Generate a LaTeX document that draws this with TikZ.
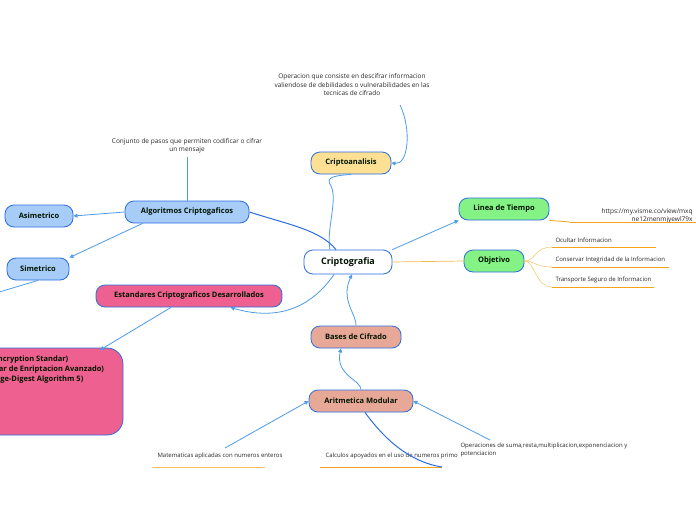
\documentclass[tikz,border=0pt]{standalone}
\usepackage{fontspec}
\setmainfont{Open Sans}
\usetikzlibrary{arrows.meta,calc}
\definecolor{bdr}{HTML}{2A6DE0}
\definecolor{lb}{HTML}{4D9BEA}
\definecolor{org}{HTML}{F7A21B}
\begin{document}
\begin{tikzpicture}[x=1pt,y=-1pt,
 box/.style={draw=bdr,line width=0.8pt,rounded corners=9pt,minimum height=22pt,font=\bfseries\fontsize{7.5}{9}\selectfont,text=black!80!green!40!black,inner sep=2pt},
 lbl/.style={font=\fontsize{6.5}{8.5}\selectfont,align=center,text=black!85},
 sm/.style={font=\fontsize{6}{7.5}\selectfont,text=black!85,align=left},
 ar/.style={lb,line width=0.8pt,-{Triangle[length=4pt,width=4pt]}},
 ln/.style={lb,line width=0.8pt},
 dk/.style={bdr,line width=1pt},
 ol/.style={org,line width=0.8pt}]
\useasboundingbox (0,0) rectangle (696,520);
\clip (0,0) rectangle (696,520);
\node[box,fill=white,minimum width=88pt,minimum height=24pt,font=\bfseries\fontsize{9}{10}\selectfont] (cg) at (348,262) {Criptografia};
\node[box,fill=yellow!45!orange!40,minimum width=80pt] (ca) at (351,163) {Criptoanalisis};
\node[box,fill=green!45!white!95!black,minimum width=90pt] (lt) at (504,209) {Linea de Tiempo};
\node[box,fill=green!45!white!95!black,minimum width=60pt] (ob) at (494,261) {Objetivo};
\node[box,fill={rgb,255:red,232;green,168;blue,152},minimum width=90pt] (bc) at (356,337) {Bases de Cifrado};
\node[box,fill={rgb,255:red,232;green,168;blue,152},minimum width=104pt] (am) at (361,401) {Aritmetica Modular};
\node[box,fill={rgb,255:red,238;green,96;blue,144},minimum width=186pt] (es) at (189,296) {Estandares Criptograficos Desarrollados};
\node[box,fill={rgb,255:red,168;green,204;blue,248},minimum width=124pt] (al) at (187,212) {Algoritmos Criptogaficos};
\node[box,fill={rgb,255:red,168;green,204;blue,248},minimum width=68pt] (as) at (39,216) {Asimetrico};
\node[box,fill={rgb,255:red,168;green,204;blue,248},minimum width=62pt] (si) at (38,269) {Simetrico};
\node[box,fill={rgb,255:red,238;green,96;blue,144},rounded corners=16pt,minimum width=150pt,minimum height=87pt] (bb) at (48,391.5) {};
\node[font=\bfseries\fontsize{7.5}{10}\selectfont,align=left,anchor=north west,text=black!80!green!40!black] (bt) at (-48,352) {DES (Data Encryption Standar)\\AES (Estandar de Enriptacion Avanzado)\\MD5 (Message-Digest Algorithm 5)};
\node[lbl] (op) at (352,85) {Operacion que consiste en descifrar informacion\\valiendose de debilidades o vulnerabilidades en las\\tecnicas de cifrado};
\node[lbl] (cj) at (187,146) {Conjunto de pasos que permiten codificar o cifrar\\un mensaje};
\node[lbl,anchor=south west,align=right] (url) at (598,227) {https://my.visme.co/view/mxq\\ne12menmjyewl79x};
\node[sm,anchor=south west] (t1) at (552,246) {Ocultar Informacion};
\node[sm,anchor=south west] (t2) at (552,266) {Conservar Integridad de la Informacion};
\node[sm,anchor=south west] (t3) at (552,286) {Transporte Seguro de Informacion};
\node[sm,anchor=south west] (mt) at (154,462) {Matematicas aplicadas con numeros enteros};
\node[sm,anchor=south west] (cl) at (322,462) {Calculos apoyados en el uso de numeros primo};
\node[sm,anchor=south west] (os) at (457,460) {Operaciones de suma,resta,multiplicacion,exponenciacion y\\potenciacion};
% underlines
\draw[ol] (552,247) -- (656,247);
\draw[ol] (552,267) -- (669,267);
\draw[ol] (552,287) -- (654,287);
\draw[org!70,line width=0.5pt] (152,467) -- (265,467);
\draw[org,line width=1pt] (320,467) -- (442,467);
\draw[org,line width=1pt] (570,222) -- (696,222);
% edges
\draw[ln] ($(cg.north)+(-18,0)$) .. controls (326,230) and (338,200) .. (331,186) .. controls (326,178) and (330,176) .. (ca.south);
\draw[ar] (400,105) .. controls (412,130) and (408,165) .. (ca.east);
\draw[ar] (cg.north east) -- (lt.south west);
\draw[org!80,line width=0.7pt] (cg.east) -- (ob.west);
\draw[dk] ($(cg.north)+(-12,0)$) .. controls (320,230) and (290,225) .. (al.east);
\draw[ar] (al.west) -- (as.east);
\draw[ar] ($(al.south west)+(18,0)$) -- (si.north east);
\draw[ln] (si.south) -- ++(-40,12);
\draw[ln] (cj.south) -- (al.north);
\draw[ar] ($(cg.south)+(-14,0)$) .. controls (320,295) and (290,325) .. ($(es.south east)+(-52,0)$);
\draw[ar] ($(es.south)+(-18,0)$) -- (100,350);
\draw[ar] (bc.north) .. controls (357,315) and (340,300) .. ($(cg.south)+(4,0)$);
\draw[ar] (am.north) .. controls (361,380) and (335,375) .. ($(bc.south)+(-15,0)$);
\draw[ar] (225,448) -- (am.west);
\draw[ar] (490,440) -- (am.east);
\draw[dk] ($(am.south)+(4,0)$) .. controls (385,440) and (410,462) .. (442,467);
\draw[org,line width=0.8pt] (lt.south east) .. controls (560,222) .. (570,222);
\foreach \y in {247,267,287}{\draw[org!60,line width=0.6pt] (ob.east) .. controls (535,261) and (535,\y) .. (552,\y);}
\end{tikzpicture}
\end{document}
